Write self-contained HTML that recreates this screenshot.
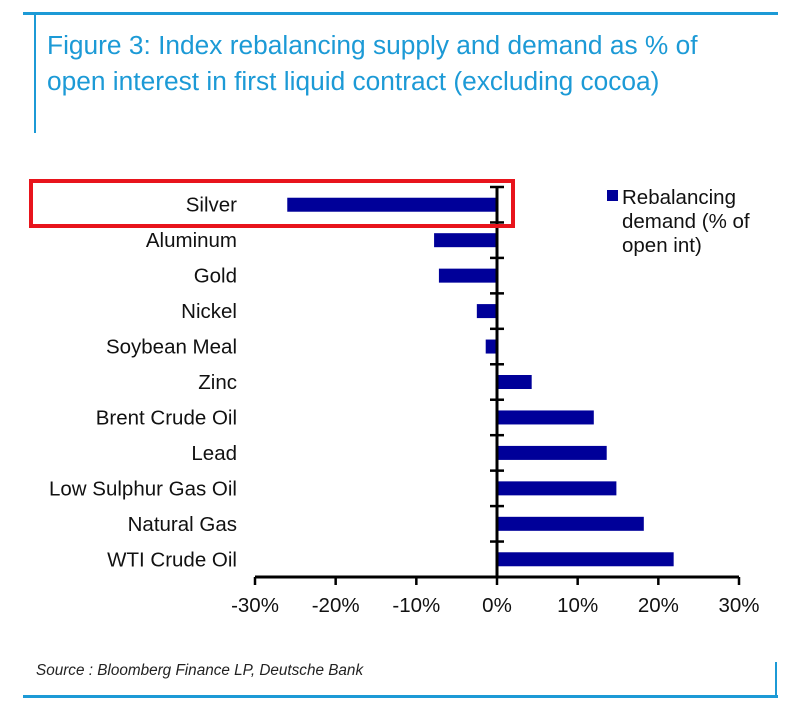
<!DOCTYPE html>
<html><head><meta charset="utf-8"><style>
html,body{margin:0;padding:0;background:#fff;}
body{width:800px;height:708px;position:relative;overflow:hidden;font-family:"Liberation Sans",Arial,sans-serif;}
.title{position:absolute;left:47px;top:27px;color:#1c9ad6;font-size:26.3px;line-height:36px;}
.src{position:absolute;left:36px;top:662px;font-size:15.3px;font-style:italic;color:#222;}
</style></head><body>
<div style="position:absolute;left:23px;top:12px;width:755px;height:3px;background:#1c9ad6"></div>
<div style="position:absolute;left:34px;top:12px;width:2px;height:121px;background:#1c9ad6"></div>
<div style="position:absolute;left:23px;top:695px;width:755px;height:3px;background:#1c9ad6"></div>
<div style="position:absolute;left:775px;top:662px;width:2px;height:35px;background:#1c9ad6"></div>
<div class="title">Figure 3: Index rebalancing supply and demand as % of<br>open interest in first liquid contract (excluding cocoa)</div>
<div class="src">Source : Bloomberg Finance LP, Deutsche Bank</div>
<svg id="chart" width="800" height="708" style="position:absolute;left:0;top:0"></svg>
<script>
const categories=["Silver","Aluminum","Gold","Nickel","Soybean Meal","Zinc","Brent Crude Oil","Lead","Low Sulphur Gas Oil","Natural Gas","WTI Crude Oil"];
const values=[-26,-7.8,-7.2,-2.5,-1.4,4.3,12,13.6,14.8,18.2,21.9];
const xTicks=[-30,-20,-10,0,10,20,30];
const xTickLabels=["-30%","-20%","-10%","0%","10%","20%","30%"];
const NS="http://www.w3.org/2000/svg";
const svg=document.getElementById('chart');
const plotX0=255,plotX1=739,vmin=-30,vmax=30,plotTop=187,plotBottom=577;
const FS=20.5;
const band=(plotBottom-plotTop)/categories.length;
const xs=v=>plotX0+(v-vmin)/(vmax-vmin)*(plotX1-plotX0);
const ys=i=>plotTop+i*band;
function mk(t,a){const e=document.createElementNS(NS,t);for(const k in a)e.setAttribute(k,a[k]);svg.appendChild(e);return e;}
categories.forEach((c,i)=>{
  const v=values[i];
  const r=mk('rect',{x:Math.min(xs(0),xs(v)),y:ys(i)+band/2-7,width:Math.abs(xs(v)-xs(0)),height:14,fill:'#000099'});
  
  
  const t=mk('text',{x:237,y:ys(i)+band/2+7,'text-anchor':'end','font-size':FS,fill:'#111','font-family':'Liberation Sans, Arial, sans-serif'});
  t.textContent=c;
  
  
});
const ya=mk('line',{x1:xs(0),x2:xs(0),y1:plotTop,y2:plotBottom,stroke:'#000','stroke-width':3});


for(let i=0;i<=categories.length;i++){
  const tk=mk('line',{x1:xs(0)-7,x2:xs(0)+7,y1:ys(i),y2:ys(i),stroke:'#000','stroke-width':2.5});
  
  
}
const xa=mk('line',{x1:plotX0,x2:plotX1,y1:plotBottom,y2:plotBottom,stroke:'#000','stroke-width':3});


xTicks.forEach((v,i)=>{
  const tk=mk('line',{x1:xs(v),x2:xs(v),y1:plotBottom,y2:plotBottom+8,stroke:'#000','stroke-width':2.5});
  
  
  const t=mk('text',{x:xs(v),y:plotBottom+35,'text-anchor':'middle','font-size':FS,fill:'#111','font-family':'Liberation Sans, Arial, sans-serif'});
  t.textContent=xTickLabels[i];
  
  
});
const hb=mk('rect',{x:31,y:181,width:482,height:45,fill:'none',stroke:'#e8141c','stroke-width':4});


const ls=mk('rect',{x:607,y:190,width:11,height:11,fill:'#000099'});


["Rebalancing","demand (% of","open int)"].forEach((s,i)=>{
  const t=mk('text',{x:622,y:204+i*24,'font-size':FS,fill:'#111','font-family':'Liberation Sans, Arial, sans-serif'});
  t.textContent=s;
  
  
});
</script>
</body></html>
